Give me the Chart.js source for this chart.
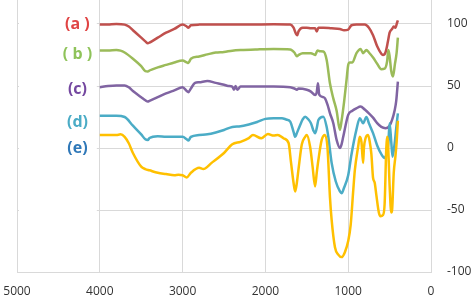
<!DOCTYPE html>
<html>
<head>
<meta charset="utf-8">
<script src="https://cdn.jsdelivr.net/npm/chart.js@4.4.1/dist/chart.umd.min.js"></script>
<style>
  html, body { margin: 0; padding: 0; background: #fff; overflow: hidden; }
  body { width: 474px; height: 297px; position: relative; }
  #spectra { position: absolute; left: 0; top: -38px; }
</style>
</head>
<body>
<canvas id="spectra" width="491" height="340"></canvas>
<script>
// ---- data (wavenumber, cm-1 / transmittance-like value) ----
const waveA = [4000, 3900, 3800, 3700, 3650, 3600, 3500, 3450, 3420, 3400, 3300, 3200, 3100, 3000, 2950, 2930, 2900, 2800, 2500, 2200, 1900, 1700, 1660, 1630, 1615, 1600, 1550, 1500, 1450, 1400, 1380, 1360, 1300, 1200, 1100, 1050, 1000, 960, 900, 800, 750, 700, 650, 600, 580, 550, 520, 500, 470, 450, 430, 410, 400];
const valuesA = [99.5, 99.6, 100, 99.5, 98, 95, 89, 86, 84.5, 85, 89, 93, 96, 99.5, 98, 97, 99, 99.5, 99.6, 99.5, 99.7, 99.5, 97, 92, 91, 94, 97, 97, 96.5, 96.5, 94, 97, 97, 96.5, 96, 95, 95.5, 99, 99.5, 99.5, 97, 91, 82, 76, 75, 77, 86, 93, 96, 98, 97, 101, 103];

const waveB = [4000, 3900, 3800, 3750, 3700, 3600, 3500, 3450, 3420, 3400, 3300, 3200, 3100, 3000, 2950, 2930, 2900, 2800, 2700, 2600, 2500, 2400, 2300, 2100, 1900, 1700, 1650, 1620, 1600, 1550, 1450, 1400, 1370, 1340, 1300, 1260, 1220, 1180, 1140, 1100, 1080, 1050, 1020, 1000, 980, 950, 900, 850, 820, 780, 750, 700, 650, 600, 560, 530, 515, 500, 480, 460, 435, 415, 400];
const valuesB = [78.7, 78.7, 79, 78.5, 77, 72, 66, 62, 61.7, 62.5, 65, 67, 69, 70.5, 69, 68.5, 72, 73.8, 75.5, 77, 77.5, 78.5, 79, 79.5, 79.8, 79.5, 77, 74, 75, 76.5, 76.5, 75, 78.7, 78, 77.8, 71, 52, 40, 30, 14.5, 22, 37, 55, 67, 69, 69, 76.5, 79.8, 76.5, 79, 77, 73, 68, 63.6, 64, 70, 79, 74, 62, 57.6, 68, 77, 89];

const waveC = [4000, 3900, 3800, 3700, 3650, 3600, 3500, 3450, 3420, 3400, 3300, 3200, 3100, 3000, 2950, 2930, 2900, 2850, 2800, 2700, 2600, 2500, 2450, 2400, 2380, 2360, 2340, 2300, 2100, 1900, 1700, 1650, 1620, 1600, 1500, 1450, 1400, 1380, 1365, 1350, 1300, 1280, 1250, 1220, 1180, 1140, 1100, 1080, 1060, 1000, 950, 900, 850, 800, 750, 700, 650, 600, 550, 500, 470, 440, 420, 400];
const valuesC = [49, 50, 50.5, 50.5, 49, 46, 41, 38.5, 37.4, 38, 41, 44, 46.5, 49, 46, 45, 48, 52.5, 53, 54, 52.5, 51, 50, 49.5, 47, 50, 47, 49.5, 49.5, 49.6, 49, 48, 47, 48, 47, 45.5, 42.8, 45, 52.3, 43, 41, 40, 35, 28, 20, 6.5, 0, 3, 9, 26.7, 30, 32, 33.4, 31, 28, 24.5, 20, 17, 16, 18, 22.6, 30, 38, 53.6];

const waveD = [4000, 3900, 3800, 3700, 3600, 3500, 3450, 3420, 3400, 3300, 3200, 3100, 3000, 2950, 2930, 2900, 2800, 2700, 2600, 2500, 2400, 2300, 2200, 2100, 2000, 1900, 1800, 1750, 1700, 1660, 1640, 1620, 1580, 1550, 1520, 1480, 1450, 1420, 1400, 1380, 1360, 1300, 1260, 1240, 1200, 1150, 1100, 1080, 1050, 1000, 960, 900, 860, 820, 780, 750, 700, 650, 600, 560, 530, 515, 500, 480, 465, 440, 420, 400];
const valuesD = [26, 26, 26, 25, 18, 11, 7, 6.5, 8, 9.5, 9, 9, 9, 7, 6, 9, 10.5, 11, 12.5, 14.5, 17, 17.5, 19, 21, 23.5, 24, 24, 23, 21.3, 13, 9, 12, 18.6, 23, 25.3, 23, 20, 14, 11.9, 16, 22.6, 25.3, 17, 9, -12, -27, -35, -36.5, -32, -22, -5, 15, 24, 20, 25, 20, 12, 2, -5, -8, -3, 4, 20, 5, -7, 3, 16, 28];

const waveE = [4000, 3900, 3800, 3750, 3700, 3650, 3600, 3500, 3450, 3400, 3300, 3200, 3100, 3050, 3000, 2950, 2900, 2800, 2750, 2650, 2500, 2400, 2300, 2200, 2150, 2050, 1970, 1900, 1850, 1780, 1720, 1690, 1660, 1640, 1620, 1600, 1560, 1520, 1500, 1460, 1430, 1400, 1380, 1360, 1320, 1280, 1250, 1220, 1200, 1160, 1120, 1080, 1040, 1000, 970, 940, 920, 880, 860, 840, 820, 810, 790, 760, 740, 720, 700, 680, 660, 630, 610, 580, 560, 540, 530, 520, 500, 480, 470, 450, 430, 415, 400];
const valuesE = [10.5, 10.5, 10.5, 11, 9, 3.8, -4, -15, -17, -18, -20, -21, -22, -21.5, -22, -23.7, -20, -16, -17, -12, -4, 3, 5, 8, 10.5, 7.8, 11.3, 10, 10.5, 7.8, 4, -12, -28, -35, -28, -17, 3, 9, 10.5, 1, -15, -31, -20, -9.7, 6.5, 10.5, 0, -40, -58, -80, -86, -88, -84, -75, -62, -35, -18, 1, 9, 5, -12, 0, 8, 10.5, 5, -5, -24, -28, -38, -52, -55, -54, -45, 0, 9, 5, -30, -52, -50, -20, -7, 5, 22];

const curveNames = ["(a )", "( b )", "(c)", "(d)", "(e)"];
const lineColors = ["#c0504d", "#9bbb59", "#8064a2", "#4bacc6", "#ffc000"];
const nameColors = ["#e04444", "#8fc35a", "#7448a0", "#4bacc6", "#2f78b8"];

const xTicks = { min: 0, max: 5000, step: 1000 };
const yTicks = { min: -100, max: 150, step: 50 };

// ---- helpers ----
const pairs = (xs, ys) => xs.map((x, i) => ({ x, y: ys[i] }));
const series = [
  pairs(waveA, valuesA),
  pairs(waveB, valuesB),
  pairs(waveC, valuesC),
  pairs(waveD, valuesD),
  pairs(waveE, valuesE)
];

// where the (a)...(e) names sit, in axis units
const nameAt = { x: 4270, y: [99.4, 75.2, 46.9, 21, -0.4] };

const curveNamePlugin = {
  id: "curveNames",
  beforeDatasetsDraw(chart) {
    // white text box behind the names, it hides the grid there
    const { ctx, chartArea, scales } = chart;
    const x0 = chartArea.left + 2;
    const x1 = scales.x.getPixelForValue(4000) - 3;
    const y0 = scales.y.getPixelForValue(113);
    const y1 = scales.y.getPixelForValue(-95);
    ctx.save();
    ctx.fillStyle = "#ffffff";
    ctx.fillRect(x0, y0, x1 - x0, y1 - y0);
    ctx.restore();
  },
  afterDatasetsDraw(chart) {
    const { ctx, scales } = chart;
    ctx.save();
    ctx.font = "bold 16px 'Open Sans', sans-serif";
    ctx.textAlign = "center";
    ctx.textBaseline = "middle";
    curveNames.forEach((name, i) => {
      ctx.fillStyle = nameColors[i];
      ctx.fillText(name, scales.x.getPixelForValue(nameAt.x), scales.y.getPixelForValue(nameAt.y[i]));
    });
    ctx.restore();
  }
};

const gridColor = "#d9d9d9";
const tickFont = { family: "'Open Sans', sans-serif", size: 12 };
const plainNumber = v => String(v);

new Chart(document.getElementById("spectra"), {
  type: "line",
  data: {
    datasets: series.map((pts, i) => ({
      data: pts,
      borderColor: lineColors[i],
      borderWidth: 2.5,
      pointRadius: 0,
      fill: false,
      cubicInterpolationMode: "monotone",
      order: series.length - i
    }))
  },
  options: {
    responsive: false,
    animation: false,
    devicePixelRatio: 1,
    layout: { padding: { left: 17, right: 0, top: 0, bottom: 0 } },
    plugins: { legend: { display: false }, tooltip: { enabled: false } },
    scales: {
      x: {
        type: "linear",
        reverse: true,
        min: xTicks.min,
        max: xTicks.max,
        ticks: { stepSize: xTicks.step, padding: 12, color: "#333333", font: tickFont, maxRotation: 0, autoSkip: false, callback: plainNumber },
        grid: { color: gridColor, drawTicks: false },
        border: { color: gridColor },
        afterFit(scale) {
          scale.height = 30;
          scale.paddingLeft = 0;
          scale.paddingRight = 0;
        }
      },
      y: {
        position: "right",
        min: yTicks.min,
        max: yTicks.max,
        ticks: { stepSize: yTicks.step, padding: 16, color: "#333333", font: tickFont, callback: plainNumber },
        grid: { color: gridColor, drawTicks: false },
        border: { color: gridColor },
        afterFit(scale) {
          scale.width = 60;
          scale.paddingTop = 0;
          scale.paddingBottom = 0;
        }
      }
    }
  },
  plugins: [curveNamePlugin]
});
</script>
</body>
</html>
